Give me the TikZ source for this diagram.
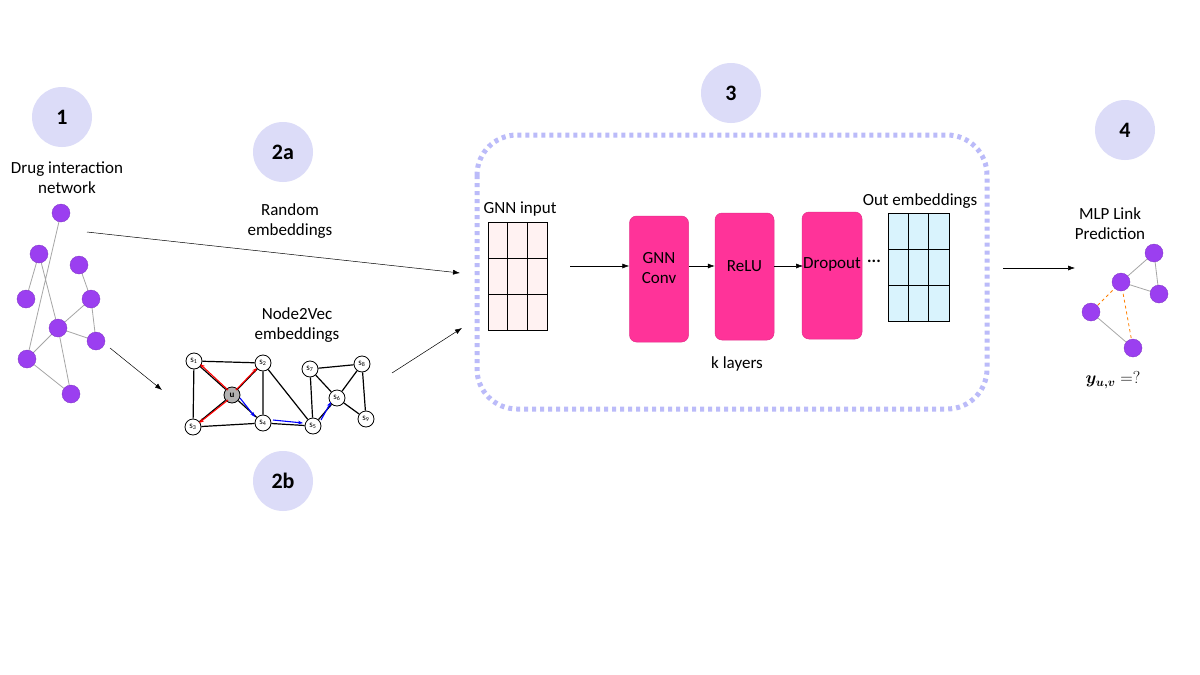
\documentclass[tikz,border=0pt]{standalone}
\usepackage{amsmath,bm}
\usepackage{fontspec}
\setmainfont{Carlito}
\usetikzlibrary{arrows.meta}
\begin{document}
\begin{tikzpicture}[x=1pt,y=-1pt,
 num/.style={circle,fill=lav,minimum size=60pt,inner sep=0pt,font=\fontsize{22}{24}\selectfont\bfseries},
 lbl/.style={align=center,font=\fontsize{17}{20}\selectfont},
 pn/.style={circle,fill=purp,draw=purp!80!black,line width=0.3pt,minimum size=18pt,inner sep=0pt},
 ge/.style={draw=gray!70,line width=0.8pt},
 sn/.style={circle,draw=black,fill=white,line width=0.8pt,minimum size=16pt,inner sep=0pt,font=\fontsize{9}{9}\selectfont},
 se/.style={draw=black,line width=1.2pt},
 arr/.style={-{Latex[length=7pt,width=5pt]},line width=0.5pt},
 blk/.style={rounded corners=7pt,fill=mag,draw=mag!90!black,line width=0.5pt},
 mat/.style={line width=0.9pt},
 ra/.style={-{Stealth[length=5pt]},red,line width=1.1pt},
 ba/.style={-{Stealth[length=5pt]},blue,line width=1.1pt}]
\definecolor{lav}{HTML}{DCDCF8}
\definecolor{purp}{HTML}{9B3FF0}
\definecolor{mag}{HTML}{FF3399}
\useasboundingbox (0,0) rectangle (1200,675);
\fill[white] (0,0) rectangle (1200,675);
% numbered circles
\node[num] (n1) at (62,117) {1};
\node[num] (n2a) at (283,152) {2a};
\node[num] (n3) at (731,93) {3};
\node[num] (n4) at (1125,130) {4};
\node[num] (n2b) at (283,481) {2b};
% labels
\node[lbl] (t1) at (67,178) {Drug interaction\\network};
\node[lbl] (t2a) at (290,221) {Random\\embeddings};
\node[lbl] (t2b) at (297,325) {Node2Vec\\embeddings};
\node[lbl] (tin) at (520,209) {GNN input};
\node[lbl] (tout) at (920,201) {Out embeddings};
\node[lbl] (tmlp) at (1110,224) {MLP Link\\Prediction};
\node[lbl] (tk) at (737,364) {k layers};
% left graph
\draw[ge] (61,213)--(27,359) (39,254)--(26,299) (39,254)--(58,328) (58,328)--(71,394) (79,265)--(91,299) (91,299)--(58,328) (91,299)--(96,341) (58,328)--(96,341) (58,328)--(27,359) (27,359)--(71,394);
\node[pn] (A) at (61,213) {};
\node[pn] (B) at (39,254) {};
\node[pn] (C) at (79,265) {};
\node[pn] (D) at (26,299) {};
\node[pn] (E) at (91,299) {};
\node[pn] (F) at (58,328) {};
\node[pn] (G) at (96,341) {};
\node[pn] (H) at (27,359) {};
\node[pn] (I) at (71,394) {};
% node2vec graph
\node[sn] (s1) at (194,361) {s\textsubscript{1}};
\node[sn] (s2) at (263,363) {s\textsubscript{2}};
\node[sn,fill=gray!60] (u) at (232,395) {\textbf{u}};
\node[sn] (s3) at (193,427) {s\textsubscript{3}};
\node[sn] (s4) at (263,423) {s\textsubscript{4}};
\node[sn] (s5) at (313,426) {s\textsubscript{5}};
\node[sn] (s7) at (310,369) {s\textsubscript{7}};
\node[sn] (s8) at (362,364) {s\textsubscript{8}};
\node[sn] (s6) at (337,398) {s\textsubscript{6}};
\node[sn] (s9) at (366,419) {s\textsubscript{9}};
\draw[se] (s1)--(s2) (s1)--(s3) (s1)--(u) (s2)--(u) (s3)--(u) (u)--(s4) (s2)--(s4) (s2)--(s5) (s3)--(s4) (s4)--(s5) (s5)--(s7) (s5)--(s6) (s7)--(s8) (s7)--(s6) (s8)--(s6) (s8)--(s9) (s6)--(s9);
\draw[ra] ([shift={(-4,-5)}]u.center) -- ([shift={(6,3)}]s1.center);
\draw[ra] ([shift={(4,-5)}]u.center) -- ([shift={(-6,5)}]s2.center);
\draw[ra] ([shift={(-4,5)}]u.center) -- ([shift={(6,-4)}]s3.center);
\draw[ba] ([shift={(8,3)}]u.center) -- ([shift={(-8,-6)}]s4.center);
\draw[ba] ([shift={(10,-3)}]s4.center) -- ([shift={(-10,-3)}]s5.center);
\draw[ba] ([shift={(8,-6)}]s5.center) -- ([shift={(-6,4)}]s6.center);
% dotted box
\draw[lav!85!blue,line width=5pt,dash pattern=on 4pt off 4pt,rounded corners=40pt] (477,135) rectangle (987,409);
% matrices
\fill[pink!20] (488,222) rectangle (547,330);
\draw[mat] (488,222) rectangle (547,330);
\foreach \x in {507.7,527.3} \draw[mat] (\x,222)--(\x,330);
\foreach \y in {258,294} \draw[mat] (488,\y)--(547,\y);
\fill[cyan!15] (888,213) rectangle (949,321);
\draw[mat] (888,213) rectangle (949,321);
\foreach \x in {908.3,928.7} \draw[mat] (\x,213)--(\x,321);
\foreach \y in {249,285} \draw[mat] (888,\y)--(949,\y);
% blocks
\node[blk,minimum width=59pt,minimum height=126pt] (conv) at (659,279) {};
\node[lbl,align=center] at (659,268) {GNN\\Conv};
\node[blk,minimum width=59pt,minimum height=127pt] (relu) at (744.5,276.5) {};
\node[lbl] at (744.5,266) {ReLU};
\node[blk,minimum width=60pt,minimum height=127pt] (drop) at (832,275.5) {};
\node[lbl] at (832,264) {Dropout};
\node[lbl] (dots) at (874,261) {\textbf{...}};
% arrows
\coordinate (a0) at (570,266);
\draw[arr] (a0) -- (conv.west|-a0);
\draw[arr] (conv.east|-a0) -- (relu.west|-a0);
\draw[arr] (relu.east|-a0) -- (803,266);
\coordinate (r0) at (87,232); \coordinate (r1) at (460,273);
\draw[arr] (r0) -- (r1);
\coordinate (l0) at (110,348); \coordinate (l1) at (162,390);
\draw[arr] (l0) -- (l1);
\coordinate (m0) at (392,373); \coordinate (m1) at (462,328);
\draw[arr] (m0) -- (m1);
\coordinate (o0) at (1003,268); \coordinate (o1) at (1075,268);
\draw[arr] (o0) -- (o1);
% right graph
\draw[gray!70,line width=0.8pt] (1154,253)--(1121,282) (1154,253)--(1159,294) (1121,282)--(1159,294) (1091,312)--(1133,348);
\draw[orange,dashed,line width=0.8pt] (1121,282)--(1091,312) (1121,282)--(1133,348);
\node[pn] (P1) at (1154,253) {};
\node[pn] (P2) at (1121,282) {};
\node[pn] (P3) at (1159,294) {};
\node[pn] (P4) at (1091,312) {};
\node[pn] (P5) at (1133,348) {};
\node[font=\fontsize{17}{20}\selectfont] (y) at (1113,380) {$\bm{y_{u,v}} = ?$};
\end{tikzpicture}
\end{document}
